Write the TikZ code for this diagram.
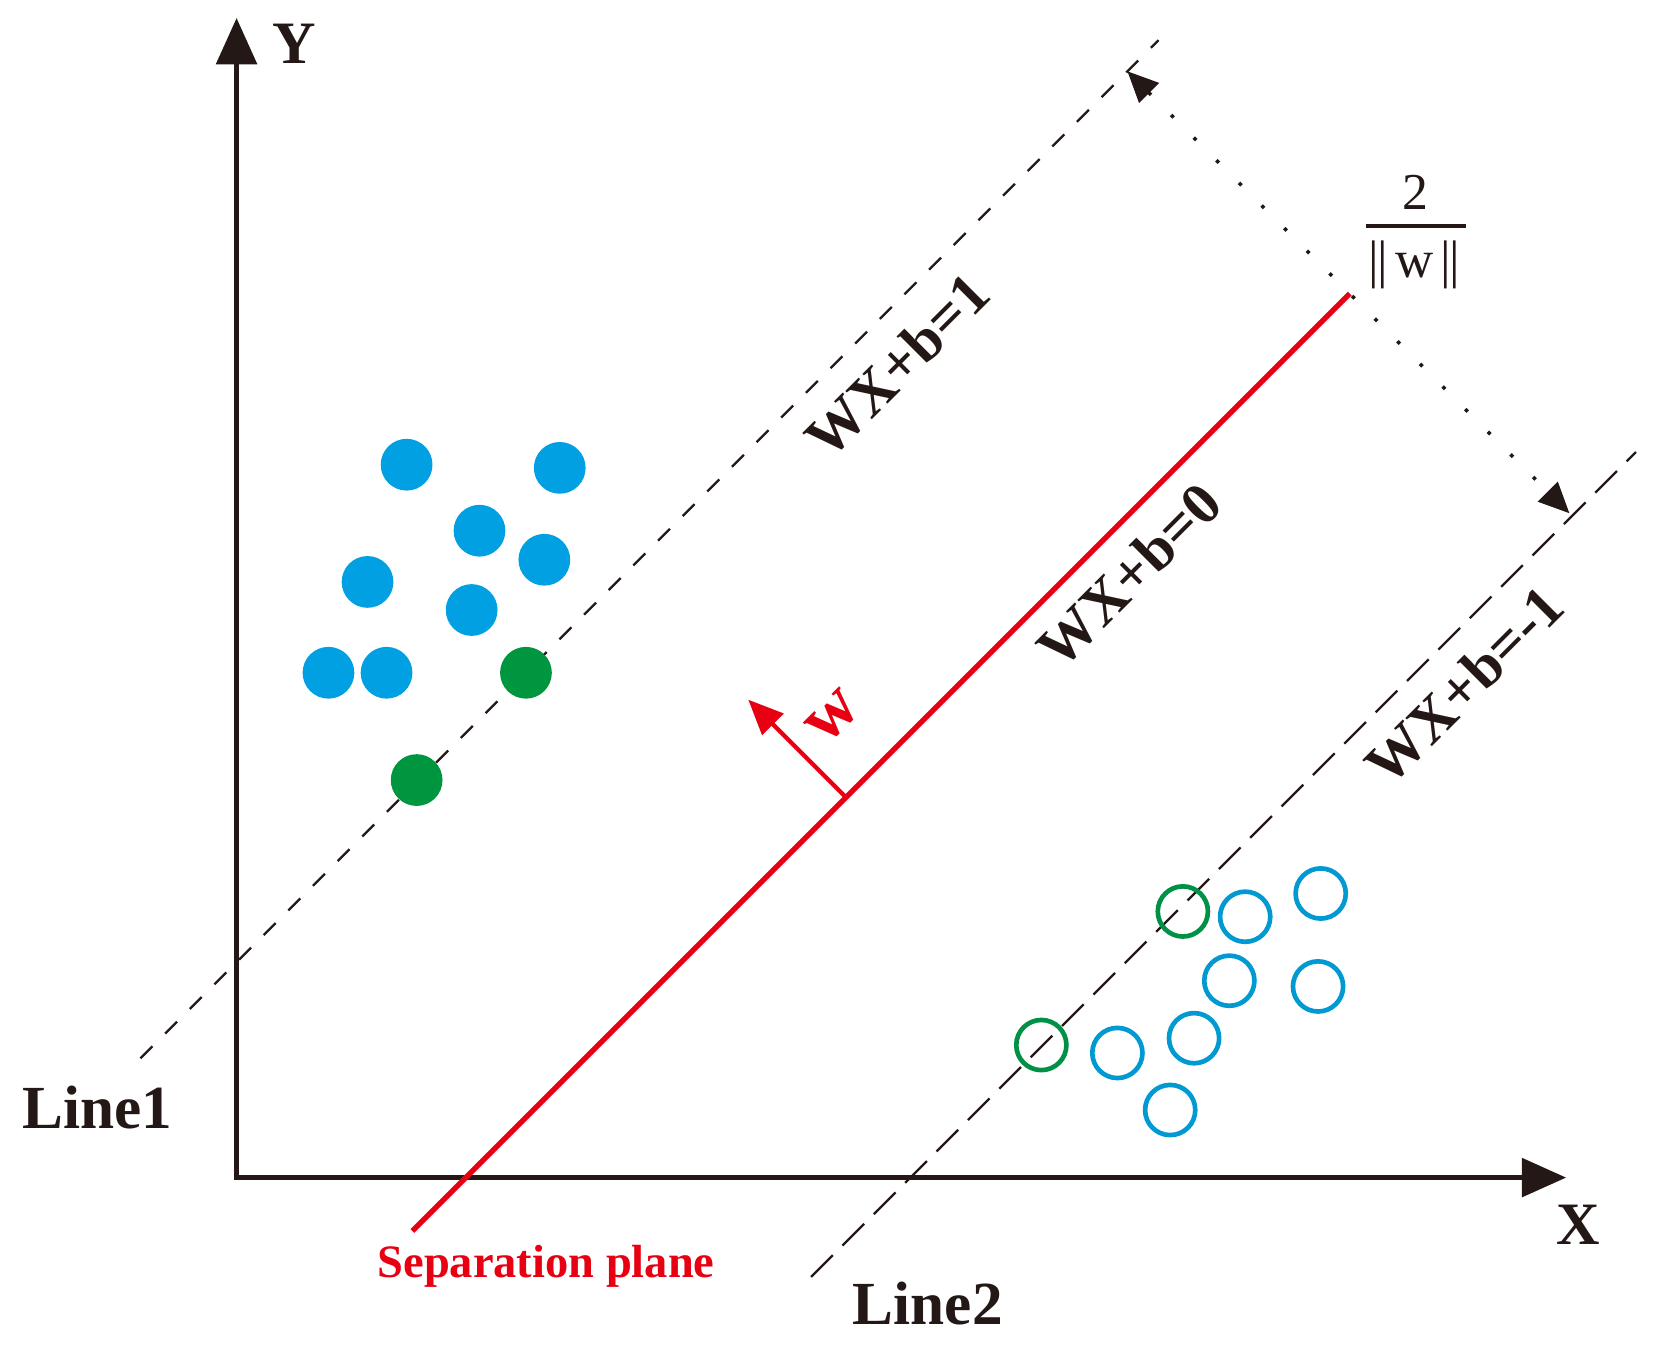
\documentclass[tikz,border=0pt]{standalone}
\usepackage{fontspec}
\setmainfont{Liberation Serif}
\usetikzlibrary{arrows.meta}
\definecolor{ink}{RGB}{35,24,21}
\definecolor{sepred}{RGB}{232,0,18}
\definecolor{dotblue}{RGB}{0,160,226}
\definecolor{ringblue}{RGB}{0,153,210}
\definecolor{dotgreen}{RGB}{0,150,64}
\definecolor{ringgreen}{RGB}{0,145,70}
\begin{document}
\begin{tikzpicture}[x=1pt,y=-1pt,
  lbl/.style={font=\fontsize{56}{60}\selectfont\bfseries, text=ink, inner sep=0pt},
  axlbl/.style={font=\fontsize{57}{60}\selectfont\bfseries, text=ink, inner sep=0pt},
  fdot/.style={circle, inner sep=0pt, minimum size=49pt},
  ring/.style={circle, draw, inner sep=0pt, minimum size=47.5pt, line width=4.4pt},
  marginline/.style={draw=ink, line width=2.2pt, dash pattern=on 16pt off 17pt},
  marginlinetwo/.style={draw=ink, line width=2.3pt, dash pattern=on 29pt off 13pt},
  dotarrow/.style={draw=ink, line width=3.4pt, dash pattern=on 3.4pt off 26.9pt,
    {Triangle[length=29pt,width=26pt]}-{Triangle[length=29pt,width=26pt]}},
]
\useasboundingbox (0,0) rectangle (1568,1277);

% axes
\coordinate (Ytip) at (224,17);
\coordinate (O) at (224,1115);
\coordinate (Xtip) at (1483,1115);
\draw[ink, line width=5.5pt, line join=miter,
  {Triangle[length=44pt,width=38pt]}-{Triangle[length=42pt,width=36pt]}] (Ytip) -- (O) -- (Xtip);
\node[axlbl] (ylab) at (279,41) {Y};
\node[axlbl] (xlab) at (1494,1160) {X};

% margin lines
\coordinate (L1a) at (133,1002);
\coordinate (L1b) at (1097,38);
\draw[marginline] (L1a) -- (L1b);
\coordinate (L2a) at (768,1209);
\coordinate (L2b) at (1549,428);
\draw[marginlinetwo] (L2a) -- (L2b);

% separation plane
\coordinate (Sa) at (390.5,1165.5);
\coordinate (Sb) at (1278,278);
\draw[sepred, line width=5pt] (Sa) -- (Sb);

% normal vector w
\coordinate (Wbase) at (801,755);
\coordinate (Wtip) at (708.5,662.5);
\draw[sepred, line width=4pt, -{Triangle[length=33pt,width=28pt]}] (Wbase) -- (Wtip);
\node[font=\fontsize{68}{68}\selectfont\bfseries, text=sepred, inner sep=0pt, rotate=45] (wlab) at (789,679) {w};

% margin arrow
\coordinate (M1) at (1067.5,67.5);
\coordinate (M2) at (1486,486);
\draw[dotarrow] (M1) -- (M2);

% fraction 2/||w||
\node[font=\fontsize{49}{50}\selectfont, text=ink, inner sep=0pt] (two) at (1340,182.5) {2};
\coordinate (FBa) at (1293,214);
\coordinate (FBb) at (1388,214);
\draw[ink, line width=4pt] (FBa) -- (FBb);
\node[font=\fontsize{50}{50}\selectfont, text=ink, inner sep=0pt] (norm) at (1339,251) {|\kern-2pt|\kern7pt w\kern7pt|\kern-2pt|};

% equation labels
\node[lbl, rotate=45] (eq1) at (849.7,346.3) {WX+b=1};
\node[lbl, rotate=45] (eq0) at (1069,544.5) {WX+b=0};
\node[lbl, rotate=45] (eqm1) at (1386.3,649.3) {WX+b=-1};

% filled class
\node[fdot, fill=dotblue] (b1) at (385,440) {};
\node[fdot, fill=dotblue] (b2) at (530,443) {};
\node[fdot, fill=dotblue] (b3) at (454,502.5) {};
\node[fdot, fill=dotblue] (b4) at (515.4,530) {};
\node[fdot, fill=dotblue] (b5) at (348,551) {};
\node[fdot, fill=dotblue] (b6) at (446.6,577.6) {};
\node[fdot, fill=dotblue] (b7) at (311,637) {};
\node[fdot, fill=dotblue] (b8) at (366,637) {};
\node[fdot, fill=dotgreen] (g1) at (498,637) {};
\node[fdot, fill=dotgreen] (g2) at (394.5,738.6) {};

% open class
\node[ring, draw=ringgreen] (r1) at (1120,863) {};
\node[ring, draw=ringgreen] (r2) at (986,989.5) {};
\node[ring, draw=ringblue] (c1) at (1179,868) {};
\node[ring, draw=ringblue] (c2) at (1250.5,846) {};
\node[ring, draw=ringblue] (c3) at (1164,928.6) {};
\node[ring, draw=ringblue] (c4) at (1248,934) {};
\node[ring, draw=ringblue] (c5) at (1130.6,983) {};
\node[ring, draw=ringblue] (c6) at (1058,997) {};
\node[ring, draw=ringblue] (c7) at (1108,1051) {};

% line labels
\node[font=\fontsize{58}{60}\selectfont\bfseries, text=ink, inner sep=0pt] (line1) at (92,1049) {Line1};
\node[font=\fontsize{58}{60}\selectfont\bfseries, text=ink, inner sep=0pt] (line2) at (878.5,1234) {Line2};
\node[font=\fontsize{44}{46}\selectfont\bfseries, text=sepred, inner sep=0pt] (seplab) at (517,1199) {Separation plane};
\end{tikzpicture}
\end{document}
